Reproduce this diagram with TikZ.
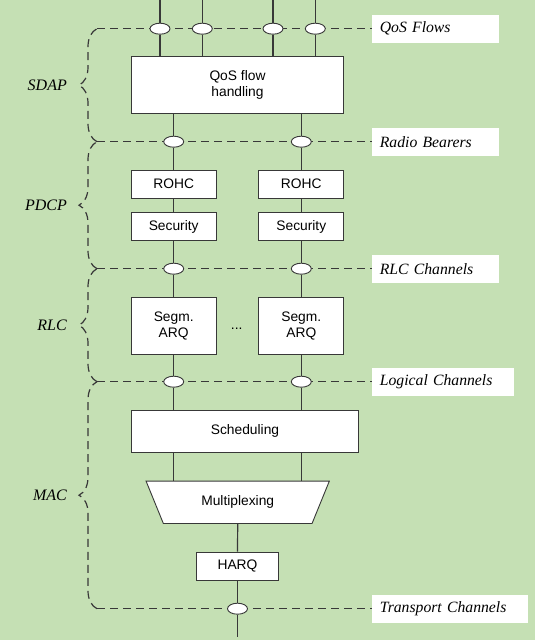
\documentclass[tikz,border=0pt]{standalone}
\usepackage{fontspec}
\setmainfont{Liberation Serif}
\setsansfont{Liberation Sans}
\usetikzlibrary{decorations.pathreplacing,shapes.geometric}
\definecolor{bggreen}{RGB}{197,224,180}
\definecolor{ink}{RGB}{56,56,56}
\tikzset{
  blk/.style={draw=ink, fill=white, line width=0.9pt, align=center, inner sep=0pt, font=\sffamily\fontsize{13.8}{16}\selectfont},
  port/.style={ellipse, draw=ink, fill=white, line width=0.9pt, minimum width=20pt, minimum height=11pt, inner sep=0pt},
  chan/.style={fill=white, anchor=west, inner xsep=8pt, minimum height=28pt, text width=#1, align=left, font=\itshape\fontsize{15.7}{18}\selectfont},
  chan/.default=111pt,
  layer/.style={anchor=east, inner sep=0pt, font=\itshape\fontsize{16}{18}\selectfont},
  link/.style={draw=ink, line width=1.2pt},
  chline/.style={draw=ink, line width=1.2pt, dash pattern=on 8pt off 5pt},
  brc/.style={chline, decorate, decoration={brace, amplitude=18pt}},
}
\begin{document}
\begin{tikzpicture}[x=1pt, y=-1pt]
  \fill[bggreen] (0,0) rectangle (535,640);
  \useasboundingbox (0,0) rectangle (535,640);
  \coordinate (topEdge) at (0,0);
  \coordinate (botEdge) at (0,637);

  % channel names on the right
  \node[chan] (qosL) at (371.7,28.7) {QoS Flows};
  \node[chan] (rbL) at (371.7,141.7) {Radio Bearers};
  \node[chan] (rlcL) at (371.7,268.7) {RLC Channels};
  \node[chan=125.8pt] (logL) at (371.7,381.7) {Logical Channels};
  \node[chan=140pt] (trL) at (371.7,608.7) {Transport Channels};

  % left ends of the channel lines
  \coordinate (qosW) at (97,28.7);
  \coordinate (rbW) at (97,141.7);
  \coordinate (rlcW) at (97,268.7);
  \coordinate (logW) at (97,381.7);
  \coordinate (trW) at (97,608.7);

  \draw[chline] (qosW) -- (qosL.west);
  \draw[chline] (rbW) -- (rbL.west);
  \draw[chline] (rlcW) -- (rlcL.west);
  \draw[chline] (logW) -- (logL.west);
  \draw[chline] (trW) -- (trL.west);

  % layer braces
  \draw[brc] (rbW) -- (qosW);
  \draw[brc] (rlcW) -- (rbW);
  \draw[brc] (logW) -- (rlcW);
  \draw[brc] (trW) -- (logW);
  \node[layer] (sdap) at (67,85.2) {SDAP};
  \node[layer] (pdcp) at (67,205.2) {PDCP};
  \node[layer] (rlc) at (67,325.2) {RLC};
  \node[layer] (mac) at (67,495.2) {MAC};

  % service access points
  \node[port] (f1) at (160,28.7) {};
  \node[port] (f2) at (202.3,28.7) {};
  \node[port] (f3) at (273,28.7) {};
  \node[port] (f4) at (315.3,28.7) {};
  \node[port] (rb1) at (173.7,141.7) {};
  \node[port] (rb2) at (301.3,141.7) {};
  \node[port] (rlc1) at (173.7,268.7) {};
  \node[port] (rlc2) at (301.3,268.7) {};
  \node[port] (log1) at (173.7,381.7) {};
  \node[port] (log2) at (301.3,381.7) {};
  \node[port] (tr) at (237.5,608.7) {};

  % function blocks
  \node[blk, minimum width=211.6pt, minimum height=56.6pt] (qfh) at (237.5,85) {QoS flow\\handling};
  \node[blk, minimum width=85pt, minimum height=28.3pt] (rohcA) at (173.7,184.2) {ROHC};
  \node[blk, minimum width=85pt, minimum height=28.3pt] (rohcB) at (301.3,184.2) {ROHC};
  \node[blk, minimum width=85pt, minimum height=28.4pt] (secA) at (173.7,226.5) {Security};
  \node[blk, minimum width=85pt, minimum height=28.4pt] (secB) at (301.3,226.5) {Security};
  \node[blk, minimum width=85pt, minimum height=56.7pt] (segA) at (173.7,325.7) {Segm.\\ARQ};
  \node[blk, minimum width=85pt, minimum height=56.7pt] (segB) at (301.3,325.7) {Segm.\\ARQ};
  \node[anchor=base, inner sep=0pt, font=\sffamily\fontsize{13.8}{16}\selectfont] (dots) at (236.7,329.5) {...};
  \node[blk, minimum width=226.6pt, minimum height=42.7pt] (sched) at (245,431.3) {Scheduling};
  \node[blk, trapezium, trapezium stretches=true, shape border rotate=180, trapezium angle=56.7,
    minimum width=184pt, minimum height=42.3pt] (mux) at (237.7,502.3) {Multiplexing};
  \node[blk, minimum width=81.6pt, minimum height=28pt] (harq) at (237.5,566) {HARQ};

  % SDAP
  \draw[link] (f1.north) -- (f1.north |- topEdge);
  \draw[link] (f2.north) -- (f2.north |- topEdge);
  \draw[link] (f3.north) -- (f3.north |- topEdge);
  \draw[link] (f4.north) -- (f4.north |- topEdge);
  \draw[link] (f1.south) -- (f1.south |- qfh.north);
  \draw[link] (f2.south) -- (f2.south |- qfh.north);
  \draw[link] (f3.south) -- (f3.south |- qfh.north);
  \draw[link] (f4.south) -- (f4.south |- qfh.north);
  \draw[link] (rb1.north |- qfh.south) -- (rb1.north);
  \draw[link] (rb2.north |- qfh.south) -- (rb2.north);

  % PDCP
  \draw[link] (rb1.south) -- (rohcA.north);
  \draw[link] (rb2.south) -- (rohcB.north);
  \draw[link] (rohcA.south) -- (secA.north);
  \draw[link] (rohcB.south) -- (secB.north);
  \draw[link] (secA.south) -- (rlc1.north);
  \draw[link] (secB.south) -- (rlc2.north);

  % RLC
  \draw[link] (rlc1.south) -- (segA.north);
  \draw[link] (rlc2.south) -- (segB.north);
  \draw[link] (segA.south) -- (log1.north);
  \draw[link] (segB.south) -- (log2.north);

  % MAC
  \draw[link] (log1.south) -- (log1.south |- sched.north);
  \draw[link] (log2.south) -- (log2.south |- sched.north);
  \draw[link] (log1 |- sched.south) -- (log1 |- mux.north);
  \draw[link] (log2 |- sched.south) -- (log2 |- mux.north);
  \draw[link] (mux.south) -- (harq.north);
  \draw[link] (harq.south) -- (tr.north);
  \draw[link] (tr.south) -- (tr.south |- botEdge);
\end{tikzpicture}
\end{document}
